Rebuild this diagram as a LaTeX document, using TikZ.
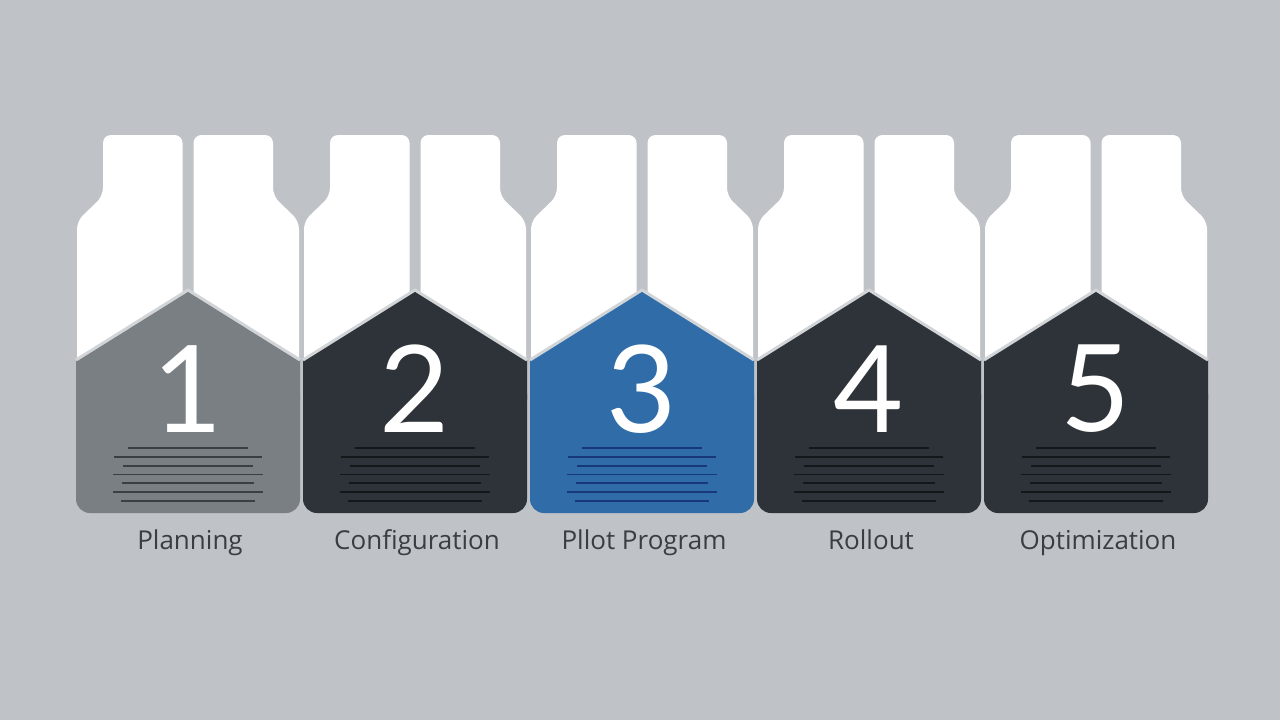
\documentclass[tikz,border=0pt]{standalone}
\usepackage{fontspec}
\setmainfont{Open Sans}
\newfontfamily\numfont{Lato}
\definecolor{bgc}{HTML}{BFC3C7}
\definecolor{gstep}{HTML}{7A7F84}
\definecolor{dstep}{HTML}{2E3339}
\definecolor{bstep}{HTML}{2F6CA8}
\definecolor{gline}{HTML}{3A3F44}
\definecolor{dline}{HTML}{14171A}
\definecolor{bline}{HTML}{17397A}
\definecolor{roofc}{HTML}{D2D5D8}
\definecolor{labc}{HTML}{3A3E43}
\tikzset{
  tab/.style={fill=white, rounded corners=8pt},
  roofline/.style={draw=roofc, line width=3pt, line join=round},
  numlabel/.style={text=white, inner sep=0pt, font=\numfont\fontsize{121}{121}\selectfont},
  steplabel/.style={text=labc, inner sep=0pt, anchor=base, font=\fontsize{26}{26}\selectfont},
}
\begin{document}
\begin{tikzpicture}[x=1pt,y=-1pt]
\fill[bgc] (0,0) rectangle (1280,720);
\useasboundingbox (0,0) rectangle (1280,720);
\foreach \i/\col/\lcol/\lab in {1/gstep/gline/Planning, 2/dstep/dline/Configuration, 3/bstep/bline/Pllot Program, 4/dstep/dline/Rollout, 5/dstep/dline/Optimization}{
  \pgfmathsetmacro\cx{188+227*(\i-1)}
  % white tabs
  \path[tab] (\cx-5.5,390) -- (\cx-5.5,135) -- (\cx-85,135) -- (\cx-85,196) -- (\cx-111,221) -- (\cx-111,390) -- cycle;
  \path[tab] (\cx+5.5,390) -- (\cx+5.5,135) -- (\cx+85,135) -- (\cx+85,196) -- (\cx+111,221) -- (\cx+111,390) -- cycle;
  % pentagon body
  \fill[\col] (\cx-112,400) -- (\cx-112,360) -- (\cx,290) -- (\cx+112,360) -- (\cx+112,400) -- cycle;
  \fill[\col, rounded corners=14pt] (\cx-112,380) rectangle (\cx+112,513);
  \draw[roofline] (\cx-112,360) -- (\cx,290) -- (\cx+112,360);
  % number
  \node[numlabel] (num\i) at (\cx,389) {\i};
  % text lines
  \foreach \k/\h in {0/60,1/74,2/65,3/75,4/66,5/75,6/67}{
    \draw[\lcol, line width=1.8pt] (\cx-\h,448+8.8*\k) -- (\cx+\h,448+8.8*\k);
  }
  % label
  \node[steplabel] (lab\i) at (\cx+2,549) {\lab};
}
\end{tikzpicture}
\end{document}
